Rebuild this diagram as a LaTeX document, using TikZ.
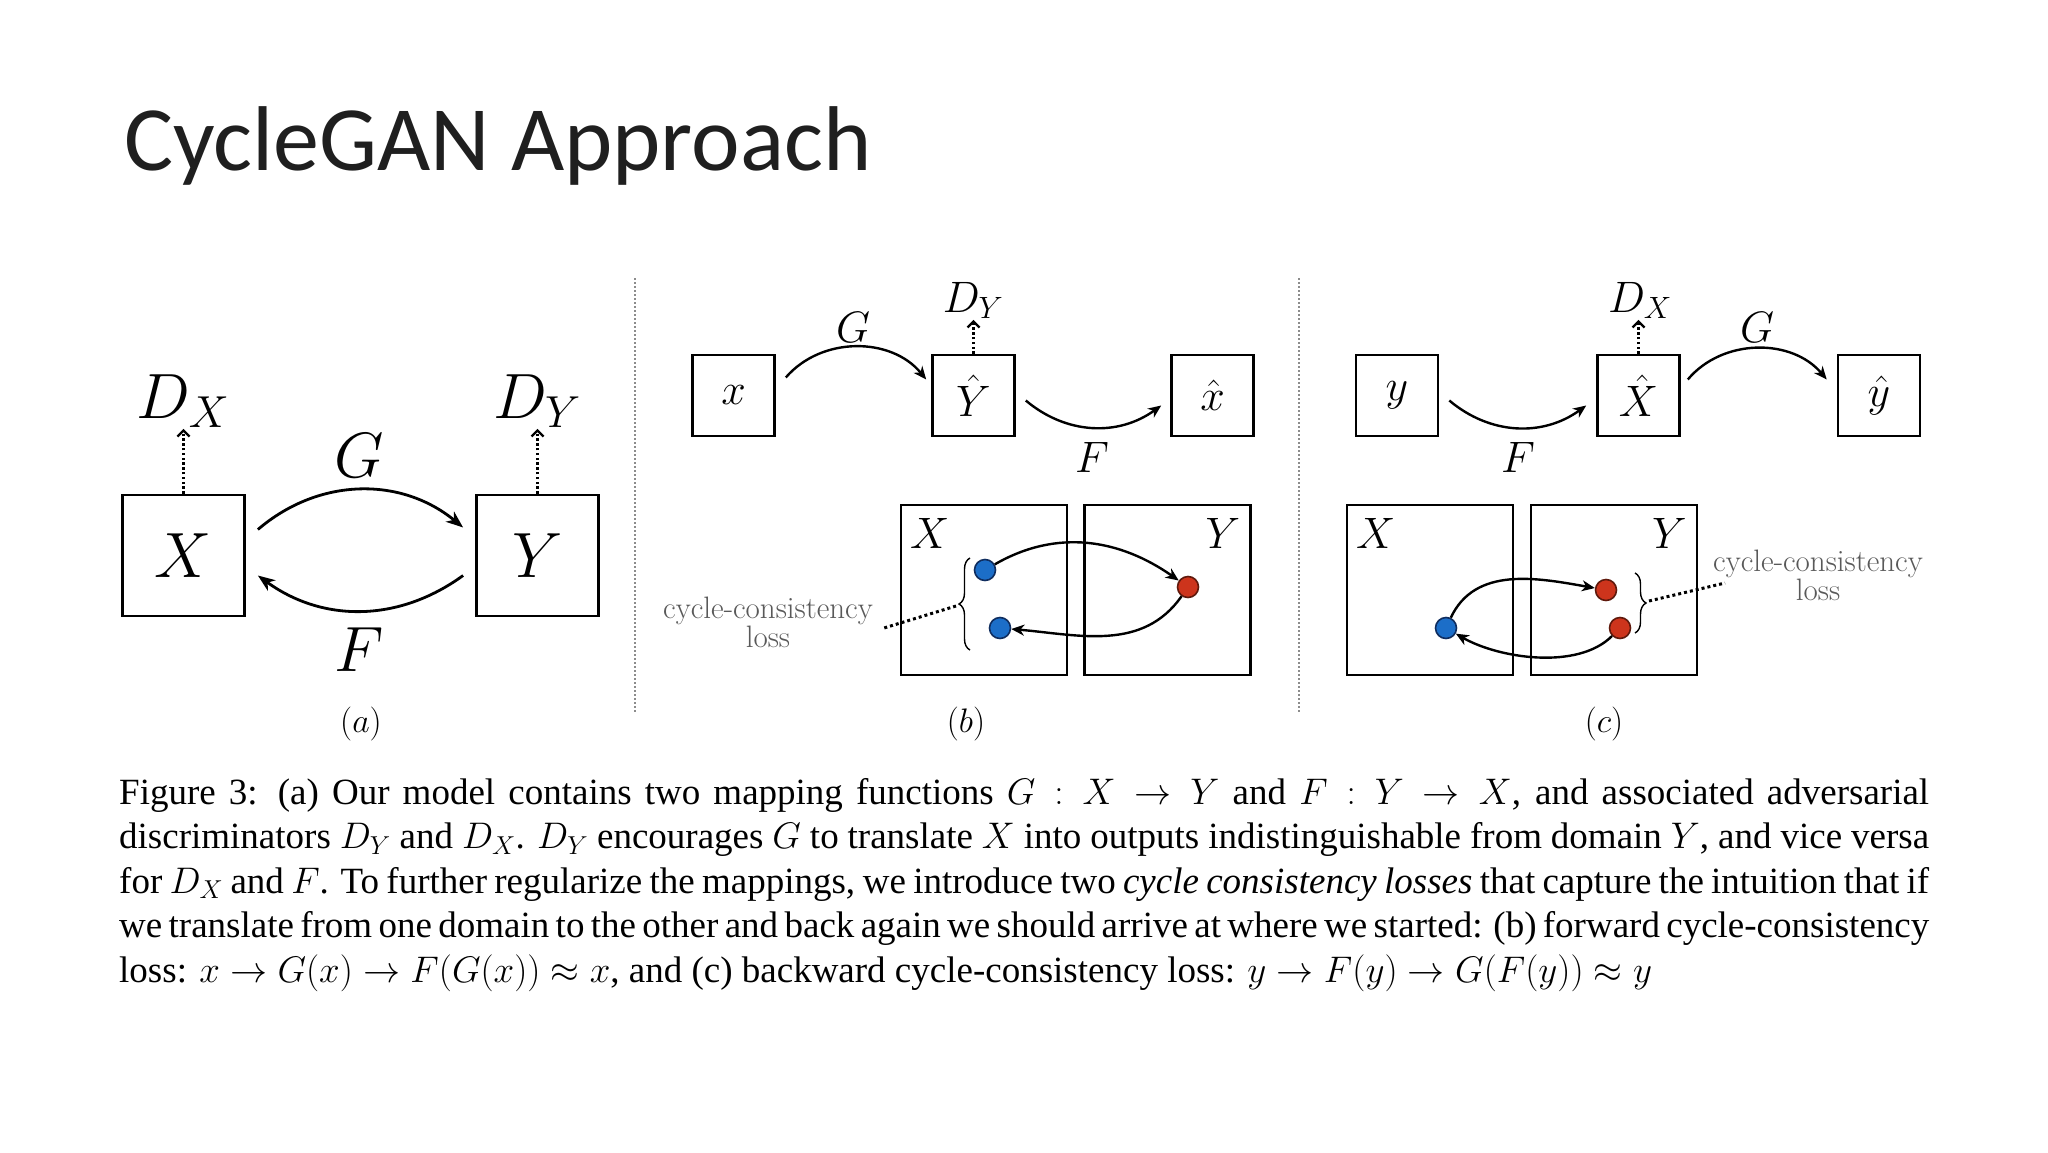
\documentclass[tikz,border=0pt]{standalone}
\usepackage{fix-cm}
\usepackage{fontspec}
\newfontfamily\titlefont{Carlito}
\newfontfamily\capfont{Liberation Serif}
\usetikzlibrary{arrows.meta,calc,decorations.pathreplacing}
\definecolor{dotblue}{RGB}{28,110,200}
\definecolor{dotblueD}{RGB}{15,45,95}
\definecolor{dotred}{RGB}{205,52,28}
\definecolor{dotredD}{RGB}{95,25,12}
\newcommand{\myfs}[1]{\fontsize{#1}{#1}\selectfont}
\begin{document}
\begin{tikzpicture}[x=1pt,y=-1pt,
  bigbox/.style={draw,line width=2.8pt,minimum width=122pt,minimum height=121pt,inner sep=0pt,font=\myfs{64}},
  biglab/.style={inner sep=1pt,font=\myfs{64}},
  smallbox/.style={draw,line width=2.6pt,minimum width=82pt,minimum height=81pt,inner sep=0pt,font=\myfs{44}},
  smalllab/.style={inner sep=1pt,font=\myfs{44}},
  domainbox/.style={draw,line width=2.6pt,minimum width=166pt,minimum height=170pt,inner sep=0pt},
  maparrowA/.style={line width=2.8pt,-{Stealth[length=17pt,width=13pt,inset=5pt]}},
  maparrowB/.style={line width=2.4pt,-{Stealth[length=13pt,width=11pt,inset=4pt]}},
  discarrow/.style={line width=2.4pt,dash pattern=on 2.4pt off 2.4pt,-{Straight Barb[length=6pt,width=12pt]}},
  sublab/.style={font=\myfs{34}},
  bdot/.style={circle,draw=dotblueD,fill=dotblue,line width=1.6pt,minimum size=21pt,inner sep=0pt},
  rdot/.style={circle,draw=dotredD,fill=dotred,line width=1.6pt,minimum size=21pt,inner sep=0pt},
  bracestyle/.style={decorate,decoration={brace,amplitude=11pt},line width=1.4pt},
  lossline/.style={line width=3pt,dash pattern=on 3pt off 3pt},
  losstext/.style={align=center,font=\myfs{31},text=black!65,inner sep=0pt},
  sepline/.style={line width=2pt,draw=black!45,dash pattern=on 2pt off 2pt}
]
\fill[white] (0,0) rectangle (2048,1152);
\useasboundingbox (0,0) rectangle (2048,1152);

% title
\node[anchor=base west,inner sep=0pt,font=\titlefont\myfs{92},text=black!88] (title) at (124,170) {CycleGAN Approach};

% ---------- panel (a)
\node[bigbox] (Xa) at (183.5,555.5) {$X$};
\node[bigbox] (Ya) at (537.5,555.5) {$Y$};
\node[biglab,anchor=base] (DXa) at (183,418) {$D_X$};
\node[biglab,anchor=base] (DYa) at (537,418) {$D_Y$};
\draw[discarrow] (Xa.north) -- (Xa.north |- DXa.south);
\draw[discarrow] (Ya.north) -- (Ya.north |- DYa.south);
\draw[maparrowA] ($(Xa.east)+(12,-26)$) to[bend left=40] ($(Ya.west)+(-12,-28)$);
\draw[maparrowA] ($(Ya.west)+(-12,20)$) to[bend left=36] ($(Xa.east)+(12,20)$);
\node[biglab] (Ga) at (359,456) {$G$};
\node[biglab] (Fa) at (359,650) {$F$};
\node[sublab] (ca) at (361,724) {$(a)$};

% separators
\draw[sepline] (635,278) -- (635,712);
\draw[sepline] (1299,278) -- (1299,712);

% ---------- panel (b)
\node[smallbox] (xb) at (733.5,395.5) {$x$};
\node[smallbox] (Yhb) at (973.5,395.5) {$\hat{Y}$};
\node[smallbox] (xhb) at (1212.5,395.5) {$\hat{x}$};
\node[smalllab,anchor=base] (DYb) at (973,312) {$D_Y$};
\draw[discarrow] (Yhb.north) -- (Yhb.north |- DYb.south);
\draw[maparrowB] ($(xb.east)+(10,-18)$) to[bend left=50] ($(Yhb.west)+(-5,-16)$);
\draw[maparrowB] ($(Yhb.east)+(10,5)$) to[bend right=38] ($(xhb.west)+(-9,10)$);
\node[smalllab] (Gb) at (853,327) {$G$};
\node[smalllab] (Fb) at (1092,457) {$F$};

\node[domainbox] (Xb) at (984,590) {};
\node[domainbox] (Yb) at (1167.5,590) {};
\node[smalllab] (Xlb) at ($(Xb.north west)+(30,30)$) {$X$};
\node[smalllab] (Ylb) at ($(Yb.north east)+(-29,30)$) {$Y$};
\node[bdot] (b1) at (985,570) {};
\node[bdot] (b2) at (1000,628) {};
\node[rdot] (r1) at (1188,587) {};
\draw[maparrowB] (b1) to[out=30,in=145] (r1);
\draw[maparrowB] (r1) to[out=-125,in=-5] (b2);
\draw[bracestyle] (970,650) -- (970,558);
\coordinate (tipb) at (956,606);
\coordinate (endb) at (884,628);
\draw[lossline] (tipb) -- (endb);
\node[losstext] (lossb) at (768,622) {cycle-consistency\\[-2pt]loss};
\node[sublab] (cb) at (966,724) {$(b)$};

% ---------- panel (c)
\node[smallbox] (yc) at (1397,395.5) {$y$};
\node[smallbox] (Xhc) at (1638.5,395.5) {$\hat{X}$};
\node[smallbox] (yhc) at (1879,395.5) {$\hat{y}$};
\node[smalllab,anchor=base] (DXc) at (1640,312) {$D_X$};
\draw[discarrow] (Xhc.north) -- (Xhc.north |- DXc.south);
\draw[maparrowB] ($(yc.east)+(10,5)$) to[bend right=38] ($(Xhc.west)+(-10,10)$);
\draw[maparrowB] ($(Xhc.east)+(7,-16)$) to[bend left=50] ($(yhc.west)+(-10,-16)$);
\node[smalllab] (Fc) at (1518,457) {$F$};
\node[smalllab] (Gc) at (1757,327) {$G$};

\node[domainbox] (Xc) at (1430,590) {};
\node[domainbox] (Yc) at (1614,590) {};
\node[smalllab] (Xlc) at ($(Xc.north west)+(30,30)$) {$X$};
\node[smalllab] (Ylc) at ($(Yc.north east)+(-29,30)$) {$Y$};
\node[bdot] (b3) at (1446,628) {};
\node[rdot] (r2) at (1606,590) {};
\node[rdot] (r3) at (1620,628) {};
\draw[maparrowB] (b3) to[out=65,in=170] (r2);
\draw[maparrowB] (r3) to[out=-135,in=-30,looseness=0.8] (b3);
\draw[bracestyle] (1635,573) -- (1635,633);
\coordinate (tipc) at (1649,601);
\coordinate (endc) at (1725,583);
\draw[lossline] (tipc) -- (endc);
\node[losstext] (lossc) at (1818,575) {cycle-consistency\\[-2pt]loss};
\node[sublab] (cc) at (1604,724) {$(c)$};

% ---------- caption
\node[anchor=north west,inner sep=0pt,font=\capfont\myfs{37}] (cap) at (119,778) {%
\parbox{1810pt}{\baselineskip=44.5pt
\hbox to\hsize{Figure 3: (a) Our model contains two mapping functions $G : X \rightarrow Y$ and $F : Y \rightarrow X$, and associated adversarial}
\hbox to\hsize{discriminators $D_Y$ and $D_X$. $D_Y$ encourages $G$ to translate $X$ into outputs indistinguishable from domain $Y$, and vice versa}
\hbox to\hsize{for $D_X$ and $F$. To further regularize the mappings, we introduce two \emph{cycle consistency losses} that capture the intuition that if}
\hbox to\hsize{we translate from one domain to the other and back again we should arrive at where we started: (b) forward cycle-consistency}
\hbox{loss: $x \rightarrow G(x) \rightarrow F(G(x)) \approx x$, and (c) backward cycle-consistency loss: $y \rightarrow F(y) \rightarrow G(F(y)) \approx y$}}};
\end{tikzpicture}
\end{document}
